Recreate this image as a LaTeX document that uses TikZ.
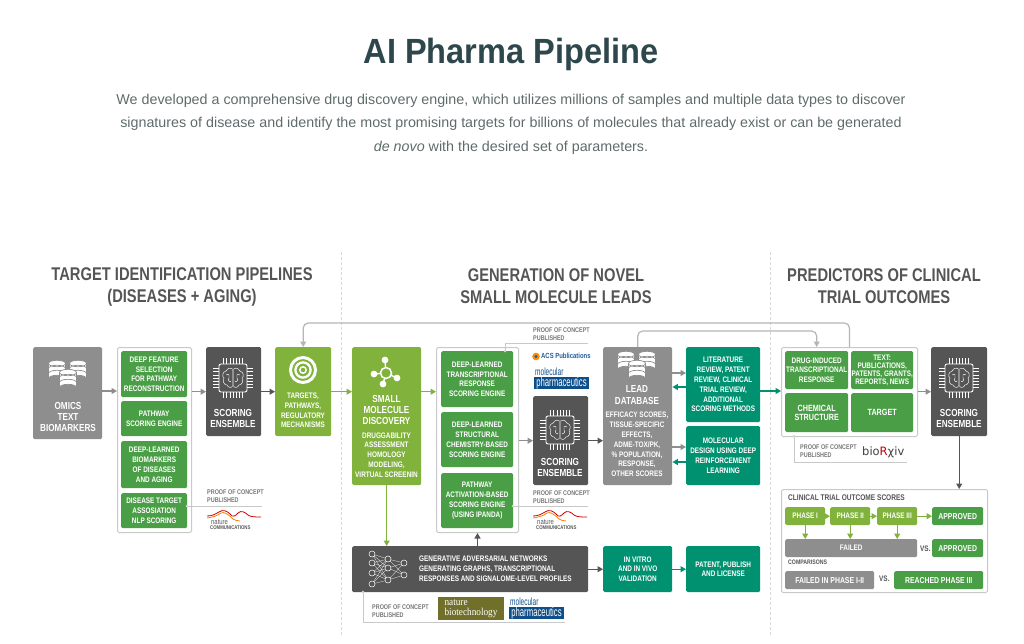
\documentclass[tikz,border=0pt]{standalone}
\usepackage{fontspec}
\setmainfont{Liberation Sans}
\newfontfamily\titlefont[FakeStretch=0.93]{Liberation Sans}
\newfontfamily\condfont[FakeStretch=0.8]{Liberation Sans}
\newfontfamily\logofont[FakeStretch=0.62]{Liberation Sans}
\newfontfamily\logoserif[FakeStretch=0.88]{Liberation Serif}
\newfontfamily\greekfont{DejaVu Sans}
\usetikzlibrary{arrows.meta}
\definecolor{titlegray}{HTML}{2E474C}
\definecolor{bodygray}{HTML}{5F6B6B}
\definecolor{headgray}{HTML}{555555}
\definecolor{proofgray}{HTML}{777777}
\definecolor{boxgray}{HTML}{8E8E8E}
\definecolor{boxdark}{HTML}{555555}
\definecolor{boxgreen}{HTML}{4A9F46}
\definecolor{boxlime}{HTML}{80B23C}
\definecolor{boxteal}{HTML}{009170}
\definecolor{framegray}{HTML}{C9C9C9}
\definecolor{linegray}{HTML}{B5B5B5}
\definecolor{acsblue}{HTML}{1F5C99}
\definecolor{pharmblue}{HTML}{0E4F8B}
\definecolor{natolive}{HTML}{70702A}
\tikzset{
	pipe/.style={anchor=north west,inner sep=0pt,rounded corners=1.5pt,align=center,text=white,font=\condfont\bfseries\fontsize{8}{9.8}\selectfont},
	graybox/.style={pipe,fill=boxgray},
	darkbox/.style={pipe,fill=boxdark},
	greenbox/.style={pipe,fill=boxgreen},
	limebox/.style={pipe,fill=boxlime},
	tealbox/.style={pipe,fill=boxteal},
	framebox/.style={pipe,draw=framegray,line width=1pt,fill=white},
	outcome/.style={font=\condfont\bfseries\fontsize{8.6}{9.8}\selectfont},
	bigtext/.style={align=center,inner sep=0pt,text=white,font=\condfont\bfseries\fontsize{10.2}{11.4}\selectfont},
	smalltext/.style={align=center,inner sep=0pt,text=white,font=\condfont\bfseries\fontsize{8}{9.8}\selectfont},
	headtext/.style={align=center,inner sep=0pt,text=headgray,font=\condfont\bfseries\fontsize{18.4}{22}\selectfont},
	prooftext/.style={align=left,anchor=west,inner sep=0pt,text=proofgray,font=\condfont\bfseries\fontsize{6.8}{8.2}\selectfont},
	grayarrow/.style={-{Triangle[length=5.5pt,width=6pt]},draw=boxgray,line width=1.2pt},
	darkarrow/.style={-{Triangle[length=5.5pt,width=6pt]},draw=boxdark,line width=1.2pt},
	limearrow/.style={-{Triangle[length=5.5pt,width=6pt]},draw=boxlime,line width=1.2pt},
	tealarrow/.style={-{Triangle[length=5.5pt,width=6pt]},draw=boxteal,line width=1.2pt},
	toparrow/.style={grayarrow,draw=linegray,rounded corners=5pt,line width=1.2pt},
	proofline/.style={draw=framegray,line width=.7pt},
	proofdot/.style={fill=white,draw=framegray,line width=.4pt},
	sep/.style={draw=framegray!70,line width=.6pt,dash pattern=on 2.5pt off 2.5pt}
}
% box from its top left corner to its bottom right corner
\def\pipebox[#1](#2)(#3,#4)(#5,#6)#7{\node[#1,minimum width={(#5-#3)*1pt},minimum height={(#6-#4)*1pt}] (#2) at (#3,#4) {#7};}
\def\drum(#1,#2)#3{\draw[#3,fill=white,line width=.7pt] (#1-8.5,#2-7.5) -- (#1-8.5,#2+7.5) arc (180:360:8.5 and 3.2) -- (#1+8.5,#2-7.5);
	\draw[#3,fill=white,line width=.7pt] (#1,#2-7.5) ellipse (8.5 and 3.2);
	\draw[#3,line width=.7pt] (#1-8.5,#2-2.5) arc (180:360:8.5 and 3.2);
	\draw[#3,line width=.7pt] (#1-8.5,#2+2.5) arc (180:360:8.5 and 3.2);}
\def\dbicon(#1,#2)#3{\begin{scope}[shift={(#1,#2)}]
	\drum(-11,-5){#3}
	\drum(10,-5){#3}
	\drum(0,4){#3}
\end{scope}}
\def\chipicon(#1,#2){\begin{scope}[shift={(#1,#2)},white,line width=.45pt]
	\foreach \p in {-9.5,-6.3,-3.2,0,3.2,6.3,9.5} {
		\draw (\p,-20) -- (\p,-14);
		\draw (\p,14) -- (\p,20);
		\draw (-20,\p) -- (-14,\p);
		\draw (14,\p) -- (20,\p);
	}
	\draw[line width=.9pt,rounded corners=2pt] (-14,-14) rectangle (14,14);
	\draw (-.5,-9) .. controls (-4,-11) and (-6,-9) .. (-7,-7) .. controls (-11,-6) and (-11,-1) .. (-9,0) .. controls (-11,3) and (-9,7) .. (-6,7) .. controls (-5,10) and (-1,10) .. (-.5,8) -- cycle;
	\draw (.5,-9) .. controls (4,-11) and (6,-9) .. (7,-7) .. controls (11,-6) and (11,-1) .. (9,0) .. controls (11,3) and (9,7) .. (6,7) .. controls (5,10) and (1,10) .. (.5,8) -- cycle;
	\draw (-7,-3) .. controls (-4,-5) and (-3,-2) .. (-4,0) .. controls (-6,2) and (-3,5) .. (-2,3);
	\draw (7,-3) .. controls (4,-5) and (3,-2) .. (4,0) .. controls (6,2) and (3,5) .. (2,3);
\end{scope}}
\def\natlogo(#1,#2)#3{\begin{scope}[shift={(#1,#2)}]
	\draw[red!80!black,line width=.8pt] (0,7) .. controls (6,7) and (8,5) .. (12,3) .. controls (16,0) and (20,2) .. (23,5) .. controls (26,9) and (28,7) .. (31,4) .. controls (34,1) and (38,3) .. (41,6) .. controls (44,8) and (48,8) .. (54,8);
	\draw[orange,line width=.8pt] (0,9) .. controls (6,8) and (10,7) .. (14,4) .. controls (17,2) and (22,6) .. (26,10) .. controls (28,11) and (30,12) .. (33,12);
	\node[inner sep=0pt,anchor=west,text=boxdark,font=\condfont\fontsize{7.4}{8}\selectfont] (#3a) at (4,13.5) {nature};
	\node[inner sep=0pt,anchor=west,text=boxdark,font=\condfont\bfseries\fontsize{5.4}{6}\selectfont] (#3b) at (3,19) {COMMUNICATIONS};
\end{scope}}
\def\pharmlogo(#1,#2)#3{\begin{scope}[shift={(#1,#2)}]
	\fill[pharmblue] (0,9) rectangle (55,21);
	\node[inner sep=0pt,anchor=west,text=pharmblue,font=\logofont\fontsize{10.5}{10.5}\selectfont] (#3a) at (1,3.5) {molecular};
	\node[inner sep=0pt,anchor=center,text=white,font=\logofont\fontsize{12.5}{12.5}\selectfont] (#3b) at (27.5,15) {pharmaceutics};
\end{scope}}
\begin{document}
\begin{tikzpicture}[x=1pt,y=-1pt]
	%%%%% PAGE %%%%%
	\useasboundingbox (0,0) rectangle (1024,644);
	\node[inner sep=0pt,text=titlegray,font=\titlefont\bfseries\fontsize{35}{38}\selectfont] (title) at (511,54) {AI Pharma Pipeline};
	\node[inner sep=0pt,text=bodygray,font=\fontsize{14.3}{23.5}\selectfont,align=center] (intro) at (511,124) {We developed a comprehensive drug discovery engine, which utilizes millions of samples and multiple data types to discover\\signatures of disease and identify the most promising targets for billions of molecules that already exist or can be generated\\\textit{de novo} with the desired set of parameters.};
	
	\node[headtext] (headleft) at (182,286.5) {TARGET IDENTIFICATION PIPELINES\\(DISEASES + AGING)};
	\node[headtext] (headmid) at (556,286.5) {GENERATION OF NOVEL\\SMALL MOLECULE LEADS};
	\node[headtext] (headright) at (884,286.5) {PREDICTORS OF CLINICAL\\TRIAL OUTCOMES};
	
	\coordinate (septopa) at (341,252);
	\coordinate (sepbota) at (341,636);
	\coordinate (septopb) at (770,252);
	\coordinate (sepbotb) at (770,636);
	\draw[sep] (septopa) -- (sepbota);
	\draw[sep] (septopb) -- (sepbotb);
	
	%%%%% LEFT %%%%%
	\pipebox[graybox](omics)(33,347)(102,439){}
	\dbicon(68,376){boxgray}
	\node[bigtext] (omicstext) at (68,417) {OMICS\\TEXT\\BIOMARKERS};
	
	\pipebox[framebox](leftframe)(117,347)(191,532){}
	\pipebox[greenbox](feature)(121,351)(187,397){DEEP FEATURE\\SELECTION\\FOR PATHWAY\\RECONSTRUCTION}
	\pipebox[greenbox](pathway)(121,401)(187,436){PATHWAY\\SCORING ENGINE}
	\pipebox[greenbox](biomark)(121,441)(187,488){DEEP-LEARNED\\BIOMARKERS\\OF DISEASES\\AND AGING}
	\pipebox[greenbox](nlp)(121,493)(187,528){DISEASE TARGET\\ASSOSIATION\\NLP SCORING}
	
	\pipebox[darkbox](scoreleft)(206,347)(261,436){}
	\chipicon(233,378)
	\node[bigtext] (scorelefttext) at (233,418.5) {SCORING\\ENSEMBLE};
	
	\pipebox[limebox](targets)(275,347)(331,436){}
	\draw[white,line width=3pt] (303,370) circle (12.5);
	\draw[white,line width=2.3pt] (303,370) circle (7.6);
	\draw[white,line width=1.5pt] (303,370) circle (3.2);
	\node[smalltext] (targetstext) at (303,410.5) {TARGETS,\\PATHWAYS,\\REGULATORY\\MECHANISMS};
	
	\node[prooftext] (proofleft) at (207,496.5) {PROOF OF CONCEPT\\PUBLISHED};
	\coordinate (proofleftend) at (262,506);
	\coordinate (proofleftdot) at (187,506);
	\draw[proofline] (proofleftdot) -- (proofleftend);
	\draw[proofdot] (proofleftdot) circle (1.1);
	\natlogo(207,509){natleft}
	
	%%%%% MIDDLE %%%%%
	\pipebox[limebox](small)(352,347)(421,485){}
	\begin{scope}[white]
		\draw[line width=1.4pt] (385,360) -- (386,373) (374,374) -- (386,373) (397,378) -- (386,373) (383,384) -- (386,373);
		\fill (385,360) circle (3.4) (374,374) circle (3.4) (397,378) circle (3.4) (383,384) circle (3.4);
		\draw[fill=boxlime,line width=1.5pt] (386,373) circle (5.5);
	\end{scope}
	\node[bigtext] (smalltitle) at (386.5,410) {SMALL\\MOLECULE\\DISCOVERY};
	\node[smalltext] (smallsub) at (386.5,455) {DRUGGABILITY\\ASSESSMENT\\HOMOLOGY\\MODELING,\\VIRTUAL SCREENIN};
	
	\pipebox[framebox](midframe)(436,347)(518,532){}
	\pipebox[greenbox](transcript)(441,351)(513,407){DEEP-LEARNED\\TRANSCRIPTIONAL\\RESPONSE\\SCORING ENGINE}
	\pipebox[greenbox](structural)(441,412)(513,467){DEEP-LEARNED\\STRUCTURAL\\CHEMISTRY-BASED\\SCORING ENGINE}
	\pipebox[greenbox](ipanda)(441,473)(513,528){PATHWAY\\ACTIVATION-BASED\\SCORING ENGINE\\(USING IPANDA)}
	
	\pipebox[darkbox](scoremid)(533,396)(588,485){}
	\chipicon(560,430)
	\node[bigtext] (scoremidtext) at (560,467.5) {SCORING\\ENSEMBLE};
	
	\pipebox[graybox](lead)(603,347)(672,485){}
	\dbicon(637,367){boxgray}
	\node[bigtext] (leadtitle) at (637,395) {LEAD\\DATABASE};
	\node[smalltext] (leadsub) at (637,444.5) {EFFICACY SCORES,\\TISSUE-SPECIFIC\\EFFECTS,\\ADME-TOX/PK,\\\% POPULATION,\\RESPONSE,\\OTHER SCORES};
	
	\pipebox[tealbox](literature)(686,347)(760,422){LITERATURE\\REVIEW, PATENT\\REVIEW, CLINICAL\\TRIAL REVIEW,\\ADDITIONAL\\SCORING METHODS}
	\pipebox[tealbox](design)(686,426)(760,485){MOLECULAR\\DESIGN USING DEEP\\REINFORCEMENT\\LEARNING}
	
	\node[prooftext] (prooftop) at (533,334) {PROOF OF CONCEPT\\PUBLISHED};
	\coordinate (prooftopdot) at (505,351);
	\coordinate (prooftopend) at (588,343);
	\draw[proofline] (prooftopdot) |- (prooftopend);
	\draw[proofdot] (prooftopdot) circle (1.1);
	\fill[orange!90!yellow] (536,356.5) circle (3.8);
	\fill[acsblue] (536,356.5) circle (1.7);
	\node[inner sep=0pt,anchor=west,text=acsblue,font=\condfont\bfseries\fontsize{7.4}{8}\selectfont] (acslogo) at (541,355.5) {ACS Publications};
	\pharmlogo(534,368){pharmtop}
	
	\node[prooftext] (proofmid) at (533,497) {PROOF OF CONCEPT\\PUBLISHED};
	\coordinate (proofmiddot) at (513,506);
	\coordinate (proofmidend) at (588,506);
	\draw[proofline] (proofmiddot) -- (proofmidend);
	\draw[proofdot] (proofmiddot) circle (1.1);
	\natlogo(533,509){natmid}
	
	\pipebox[darkbox](gan)(352,546)(588,592){}
	\begin{scope}[white]
		\foreach \a in {554,563,573,584} \foreach \b in {559,568,580} \draw[line width=.25pt] (372,\a) -- (388,\b);
		\foreach \a in {559,568,580} \foreach \b in {563,575} \draw[line width=.25pt] (388,\a) -- (404,\b);
		\foreach \a in {554,563,573,584} \draw[fill=boxdark,line width=.5pt] (372,\a) circle (3);
		\foreach \a in {559,568,580} \draw[fill=boxdark,line width=.5pt] (388,\a) circle (3);
		\foreach \a in {563,575} \draw[fill=boxdark,line width=.5pt] (404,\a) circle (3);
	\end{scope}
	\node[smalltext,align=left,anchor=west] (gantext) at (419,569) {GENERATIVE ADVERSARIAL NETWORKS\\GENERATING GRAPHS, TRANSCRIPTIONAL\\RESPONSES AND SIGNALOME-LEVEL PROFILES};
	\pipebox[tealbox](vitro)(603,546)(672,592){IN VITRO\\AND IN VIVO\\VALIDATION}
	\pipebox[tealbox](patent)(686,546)(760,592){PATENT, PUBLISH\\AND LICENSE}
	
	\coordinate (proofgandot) at (363,592);
	\coordinate (proofganend) at (565,622);
	\draw[proofline] (proofgandot) |- (proofganend);
	\draw[proofdot] (proofgandot) circle (1.1);
	\node[prooftext] (proofgan) at (372,611) {PROOF OF CONCEPT\\PUBLISHED};
	\node[inner sep=0pt,fill=natolive,text=white,minimum width=66pt,minimum height=23pt,align=left,font=\logoserif\fontsize{10.5}{9.6}\selectfont] (natbio) at (471,608.5) {nature\\biotechnology};
	\pharmlogo(509,598){pharmgan}
	
	%%%%% RIGHT %%%%%
	\pipebox[framebox](rightframe)(781,347)(917,436){}
	\pipebox[greenbox](drug)(785,351)(848,389){DRUG-INDUCED\\TRANSCRIPTIONAL\\RESPONSE}
	\pipebox[greenbox,font=\condfont\bfseries\fontsize{8}{8.1}\selectfont](textbox)(851,351)(913,389){TEXT:\\PUBLICATIONS,\\PATENTS, GRANTS,\\REPORTS, NEWS}
	\pipebox[greenbox,font=\condfont\bfseries\fontsize{9}{8.6}\selectfont](chemical)(785,393)(848,432){CHEMICAL\\STRUCTURE}
	\pipebox[greenbox,font=\condfont\bfseries\fontsize{9}{8.6}\selectfont](target)(851,393)(913,432){TARGET}
	
	\pipebox[darkbox](scoreright)(931,347)(987,436){}
	\chipicon(959,378)
	\node[bigtext] (scorerighttext) at (959,418.5) {SCORING\\ENSEMBLE};
	
	\coordinate (proofrightdot) at (794,436);
	\coordinate (proofrightend) at (907,462);
	\draw[proofline] (proofrightdot) |- (proofrightend);
	\draw[proofdot] (proofrightdot) circle (1.1);
	\node[prooftext] (proofright) at (800,451) {PROOF OF CONCEPT\\PUBLISHED};
	\node[inner sep=0pt,anchor=west,text=black!75,font=\greekfont\fontsize{11.5}{12}\selectfont] (biorxiv) at (862,452) {bio\textcolor{red!75!black}{R}χiv};
	
	\pipebox[framebox](clinical)(781,489)(987,592){}
	\node[prooftext,text=headgray,font=\condfont\bfseries\fontsize{8.2}{8}\selectfont] (clinicaltext) at (788,497.5) {CLINICAL TRIAL OUTCOME SCORES};
	\pipebox[limebox](phasea)(785,507)(825,525){PHASE I}
	\pipebox[limebox](phaseb)(830,507)(870,525){PHASE II}
	\pipebox[limebox](phasec)(877,507)(917,525){PHASE III}
	\pipebox[greenbox,outcome](approveda)(932,507)(983,525){APPROVED}
	\pipebox[graybox](failed)(785,539)(917,557){FAILED}
	\node[prooftext,text=headgray,font=\condfont\bfseries\fontsize{8}{8}\selectfont] (vsa) at (920,549) {VS.};
	\pipebox[greenbox,outcome](approvedb)(932,539)(983,557){APPROVED}
	\node[prooftext,text=headgray,font=\condfont\bfseries\fontsize{6.5}{6}\selectfont] (comparisons) at (788,562.5) {COMPARISONS};
	\pipebox[graybox,outcome](failedphase)(785,571)(874,589){FAILED IN PHASE I-II}
	\node[prooftext,text=headgray,font=\condfont\bfseries\fontsize{8}{8}\selectfont] (vsb) at (879,579) {VS.};
	\pipebox[greenbox,outcome](reached)(894,571)(983,589){REACHED PHASE III}
	
	%%%%% CONNECTORS %%%%%
	\coordinate (rowleft) at (110,391);
	\draw[grayarrow] (rowleft -| omics.east) -- (rowleft -| leftframe.west);
	\draw[grayarrow] (scoreleft.west -| leftframe.east) -- (scoreleft.west);
	\draw[darkarrow] (scoreleft.east) -- (targets.west);
	\draw[limearrow] (targets.east) -- (targets.east -| small.west);
	\draw[limearrow] (targets.east -| small.east) -- (targets.east -| midframe.west);
	\draw[limearrow] (small.south) -- (small.south |- gan.north);
	\draw[darkarrow] (midframe.south |- gan.north) -- (midframe.south);
	\draw[grayarrow] (scoremid.west -| midframe.east) -- (scoremid.west);
	\draw[darkarrow] (scoremid.east) -- (scoremid.east -| lead.west);
	
	\coordinate (litout) at (679,373);
	\coordinate (litback) at (679,387);
	\coordinate (desout) at (679,447);
	\coordinate (desback) at (679,462);
	\draw[grayarrow] (litout -| lead.east) -- (litout -| literature.west);
	\draw[tealarrow] (litback -| literature.west) -- (litback -| lead.east);
	\draw[grayarrow] (desout -| lead.east) -- (desout -| design.west);
	\draw[tealarrow] (desback -| design.west) -- (desback -| lead.east);
	\coordinate (litright) at (770,391);
	\draw[tealarrow] (litright -| literature.east) -- (litright -| rightframe.west);
	\draw[grayarrow] (scoreright.west -| rightframe.east) -- (scoreright.west);
	\draw[darkarrow] (gan.east) -- (vitro.west);
	\draw[tealarrow] (vitro.east) -- (patent.west);
	\draw[darkarrow] (scoreright.south) -- (scoreright.south |- clinical.north);
	
	\coordinate (topline) at (576,323);
	\coordinate (secline) at (720,331);
	\draw[toparrow] (rightframe.north) |- (topline) -| (targets.north);
	\draw[toparrow] (lead.north) |- (secline) -| (drug.north |- rightframe.north);
	
	\draw[limearrow] (phasea.east) -- (phaseb.west);
	\draw[limearrow] (phaseb.east) -- (phasec.west);
	\draw[limearrow] (phasec.east) -- (approveda.west);
	\draw[limearrow] (phasea.south) -- (phasea.south |- failed.north);
	\draw[limearrow] (phaseb.south) -- (phaseb.south |- failed.north);
	\draw[limearrow] (phasec.south) -- (phasec.south |- failed.north);
\end{tikzpicture}
\end{document}
